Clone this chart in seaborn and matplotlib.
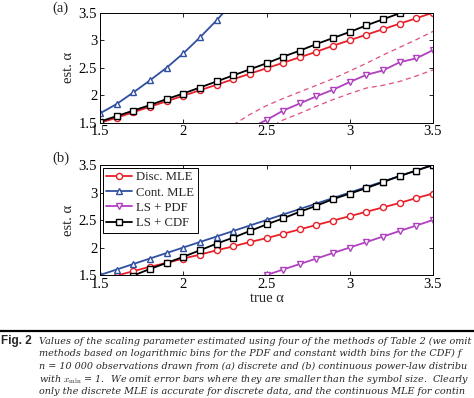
import matplotlib
matplotlib.use("Agg")
import matplotlib.pyplot as plt
from matplotlib.lines import Line2D
import seaborn as sns

# true alpha grid
alpha = [1.5, 1.6, 1.7, 1.8, 1.9, 2.0, 2.1, 2.2, 2.3, 2.4, 2.5,
         2.6, 2.7, 2.8, 2.9, 3.0, 3.1, 3.2, 3.3, 3.4, 3.5]

# panel (a): discrete data
a_disc = [1.50, 1.59, 1.69, 1.79, 1.89, 1.99, 2.09, 2.19, 2.29, 2.39, 2.49,
          2.59, 2.69, 2.79, 2.90, 3.00, 3.10, 3.20, 3.30, 3.40, 3.50]
a_cont_x = [1.5, 1.6, 1.7, 1.8, 1.9, 2.0, 2.1, 2.2, 2.3]
a_cont = [1.67, 1.84, 2.05, 2.27, 2.50, 2.76, 3.05, 3.36, 3.70]
a_cdf_x = [1.5, 1.6, 1.7, 1.8, 1.9, 2.0, 2.1, 2.2, 2.3, 2.4,
           2.5, 2.6, 2.7, 2.8, 2.9, 3.0, 3.1, 3.2, 3.3]
a_cdf = [1.52, 1.62, 1.72, 1.82, 1.93, 2.03, 2.14, 2.25, 2.36, 2.47,
         2.58, 2.70, 2.81, 2.93, 3.04, 3.15, 3.27, 3.38, 3.49]
a_pdf_x = [2.4, 2.5, 2.6, 2.7, 2.8, 2.9, 3.0, 3.1, 3.2, 3.3, 3.4, 3.5]
a_pdf = [1.40, 1.55, 1.72, 1.85, 1.98, 2.10, 2.24, 2.37, 2.45, 2.60, 2.67, 2.82]
a_hi_x = [2.3, 2.4, 2.5, 2.6, 2.7, 2.8, 2.9, 3.0, 3.1, 3.2, 3.3, 3.4, 3.5]
a_pdf_hi = [1.46, 1.65, 1.81, 1.94, 2.06, 2.18, 2.30, 2.44, 2.58, 2.73, 2.87, 3.01, 3.16]
a_lo_x = [2.5, 2.6, 2.7, 2.8, 2.9, 3.0, 3.1, 3.2, 3.3, 3.4, 3.5]
a_pdf_lo = [1.38, 1.55, 1.67, 1.80, 1.92, 2.03, 2.13, 2.18, 2.25, 2.35, 2.46]

# panel (b): continuous data
b_disc = [1.42, 1.49, 1.57, 1.65, 1.72, 1.80, 1.87, 1.95, 2.02, 2.10, 2.17,
          2.25, 2.33, 2.41, 2.49, 2.57, 2.65, 2.73, 2.81, 2.90, 2.98]
b_cont = [1.50, 1.60, 1.70, 1.80, 1.90, 2.00, 2.10, 2.20, 2.30, 2.40, 2.50,
          2.60, 2.70, 2.80, 2.90, 3.00, 3.10, 3.20, 3.30, 3.40, 3.50]
b_pdf_x = [2.4, 2.5, 2.6, 2.7, 2.8, 2.9, 3.0, 3.1, 3.2, 3.3, 3.4, 3.5]
b_pdf = [1.40, 1.50, 1.60, 1.70, 1.80, 1.90, 2.00, 2.10, 2.20, 2.30, 2.40, 2.50]
b_cdf = [1.20, 1.35, 1.49, 1.61, 1.72, 1.83, 1.95, 2.07, 2.18, 2.30, 2.42,
         2.53, 2.65, 2.76, 2.88, 2.98, 3.08, 3.19, 3.30, 3.40, 3.50]

ticks = [1.5, 2, 2.5, 3, 3.5]
tick_labels = ["1.5", "2", "2.5", "3", "3.5"]

# caption lines, as far as the page shows them
caption = [
    "Values of the scaling parameter estimated using four of the methods of Table 2 (we omit",
    "methods based on logarithmic bins for the PDF and constant width bins for the CDF) f",
    "n = 10 000 observations drawn from (a) discrete and (b) continuous power-law distribu",
    r"with $x_{\rm min}$ = 1.  We omit error bars where they are smaller than the symbol size.  Clearly",
    "only the discrete MLE is accurate for discrete data, and the continuous MLE for contin",
]

RED = "#e8202a"
BLUE = "#2f4fa0"
MAG = "#b040c0"
BLK = "black"
DASH = "#e0507a"

sns.set_style("ticks", {"xtick.direction": "in", "ytick.direction": "in",
                        "axes.edgecolor": "black"})
plt.rcParams["font.family"] = ["Liberation Serif", "DejaVu Serif"]
plt.rcParams["mathtext.fontset"] = "cm"

fig = plt.figure(figsize=(4.74, 3.98), dpi=100)
ax_a = fig.add_axes([0.211, 0.6917, 0.7025, 0.2764])
ax_b = fig.add_axes([0.211, 0.3090, 0.7025, 0.2764])

line_kw = dict(linewidth=1.3, markersize=4.4, markeredgewidth=1.0,
               markerfacecolor="white", estimator=None, errorbar=None, sort=False)


def curve(ax, x, y, color, marker, label=None):
    sns.lineplot(x=x, y=y, ax=ax, color=color, marker=marker,
                 markeredgecolor=color, label=label, **line_kw)


# (a)
curve(ax_a, alpha, a_disc, RED, "o")
curve(ax_a, a_cont_x, a_cont, BLUE, "^")
curve(ax_a, a_pdf_x, a_pdf, MAG, "v")
sns.lineplot(x=a_hi_x, y=a_pdf_hi, ax=ax_a, color=DASH, linewidth=0.9,
             linestyle=(0, (4, 3)), estimator=None, errorbar=None)
sns.lineplot(x=a_lo_x, y=a_pdf_lo, ax=ax_a, color=DASH, linewidth=0.9,
             linestyle=(0, (4, 3)), estimator=None, errorbar=None)
curve(ax_a, a_cdf_x, a_cdf, BLK, "s")

# (b)
curve(ax_b, alpha, b_disc, RED, "o", "Disc. MLE")
curve(ax_b, alpha, b_cont, BLUE, "^", "Cont. MLE")
curve(ax_b, b_pdf_x, b_pdf, MAG, "v", "LS + PDF")
curve(ax_b, alpha, b_cdf, BLK, "s", "LS + CDF")

for ax in (ax_a, ax_b):
    ax.set_xlim(1.5, 3.5)
    ax.set_ylim(1.5, 3.5)
    ax.set_xticks(ticks)
    ax.set_xticklabels(tick_labels)
    ax.set_yticks(ticks)
    ax.set_yticklabels(tick_labels)
    ax.tick_params(direction="in", top=True, right=True, length=3,
                   width=0.6, labelsize=10.5, pad=2, colors="black")
    for s in ax.spines.values():
        s.set_linewidth(0.7)
        s.set_color("black")
        s.set_visible(True)
    ax.set_ylabel("est. α", fontsize=10.5, labelpad=3)
    ax.set_xlabel("")

ax_b.set_xlabel("true α", fontsize=10.5, labelpad=1)

leg = ax_b.legend(loc="upper left", fontsize=9.2, frameon=True, fancybox=False,
                  edgecolor="black", framealpha=1, borderpad=0.3,
                  labelspacing=0.25, handlelength=2.0, handletextpad=0.3,
                  borderaxespad=0.2)
leg.get_frame().set_linewidth(0.7)

fig.text(0.11, 1 - 8 / 398, "(a)", fontsize=10.5, va="center", ha="left")
fig.text(0.11, 1 - 158 / 398, "(b)", fontsize=10.5, va="center", ha="left")

# caption block
fig.add_artist(Line2D([0, 1], [1 - 330.7 / 398] * 2, transform=fig.transFigure,
                      color="black", linewidth=1.6))
fig.text(0.003, 1 - 341 / 398, "Fig. 2", fontsize=8.5, fontweight="bold",
         family=["Liberation Sans", "DejaVu Sans"], va="center", ha="left")
for i, line in enumerate(caption):
    fig.text(39 / 474, 1 - (341 + 12.7 * i) / 398, line, fontsize=6.9,
             style="italic", family=["DejaVu Serif"], va="center", ha="left")

fig.savefig("out.png", dpi=100)
